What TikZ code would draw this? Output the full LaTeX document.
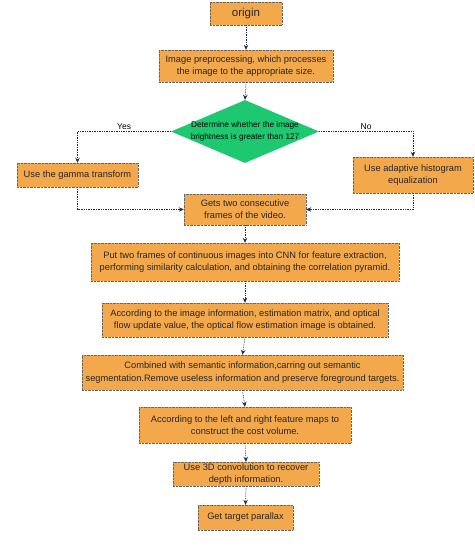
\documentclass[tikz,border=0pt]{standalone}
\usepackage{fontspec}
\setmainfont{Liberation Sans}
\usetikzlibrary{shapes.geometric, arrows.meta, positioning}
\definecolor{boxfill}{RGB}{244,168,76}
\definecolor{choicefill}{RGB}{30,200,112}
\definecolor{linecol}{RGB}{35,45,75}

\begin{document}
\begin{tikzpicture}[x=1pt, y=-1pt]

% TikZ styles
\tikzset{
  stepbox/.style={rectangle, draw=gray!80!black, densely dotted, fill=boxfill, inner sep=1pt, align=center, text=black!85, font=\fontsize{9.3}{12.3}\selectfont},
  choice/.style={diamond, fill=choicefill, inner sep=0pt, minimum width=148pt, minimum height=63pt},
  arrow/.style={-{Stealth[length=5pt, width=4.5pt]}, densely dotted, line width=0.7pt, draw=linecol},
  tag/.style={font=\fontsize{8.5}{10}\selectfont, above, inner sep=1.5pt}
}

\useasboundingbox (0,0) rectangle (474,556);

%==========================
% Kopf
%==========================
\node[stepbox, minimum width=72pt, minimum height=23pt, font=\fontsize{11.5}{13}\selectfont] (origin) at (246,13.5) {origin};
\node[stepbox, minimum width=174pt, minimum height=32pt] (prep) at (246,66) {Image preprocessing, which processes\\the image to the appropriate size.};

% --- Entscheidung ---
\node[choice] (check) at (245,131.5) {};
\node[align=center, font=\fontsize{8.2}{12.5}\selectfont, inner sep=0pt] (checktext) at (check.center) {Determine whether the image\\brightness is greater than 127};

\node[stepbox, minimum width=121pt, minimum height=24pt] (gamma) at (77.5,175) {Use the gamma transform};
\node[stepbox, minimum width=120pt, minimum height=36pt] (adaptive) at (413,175) {Use adaptive histogram\\equalization};

% --- Hauptkette ---
\node[stepbox, minimum width=122pt, minimum height=31pt] (frames) at (245,209.5) {Gets two consecutive\\frames of the video.};
\node[stepbox, minimum width=308pt, minimum height=38pt] (cnn) at (245,262) {Put two frames of continuous images  into CNN for feature extraction,\\performing similarity calculation, and obtaining the correlation pyramid.};
\node[stepbox, minimum width=286pt, minimum height=34pt] (optical) at (245,320) {According to the image information, estimation matrix, and optical\\flow update value, the optical flow estimation image is obtained.};
\node[stepbox, minimum width=321pt, minimum height=35pt] (semantic) at (242.5,372.5) {Combined with semantic information,carring out semantic\\segmentation.Remove useless information and preserve foreground targets.};
\node[stepbox, minimum width=212pt, minimum height=36pt] (costvol) at (245,425) {According to the left and right feature maps to\\construct the cost volume.};
\node[stepbox, minimum width=146pt, minimum height=24pt] (conv) at (246,474) {Use 3D convolution to recover\\depth information.};
\node[stepbox, minimum width=95pt, minimum height=25pt] (parallax) at (245.5,517.5) {Get target parallax};

% --- Pfeile ---
\draw[arrow] (origin.south) -- (prep.north);
\draw[arrow] (prep.south) -- (check.north);
\draw[arrow] (check.west) -| node[tag, pos=0.25] {Yes} (gamma.north);
\draw[arrow] (check.east) -| node[tag, pos=0.25] {No} (adaptive.north);
\draw[arrow] (gamma.south) |- (frames.west);
\draw[arrow] (adaptive.south) |- (frames.east);
\draw[arrow] (frames.south) -- (cnn.north);
\draw[arrow] (cnn.south) -- (optical.north);
\draw[arrow] (optical.south) -- (semantic.north);
\draw[arrow] (semantic.south) -- (costvol.north);
\draw[arrow] (costvol.south) -- (conv.north);
\draw[arrow] (conv.south) -- (parallax.north);
\end{tikzpicture}
\end{document}
